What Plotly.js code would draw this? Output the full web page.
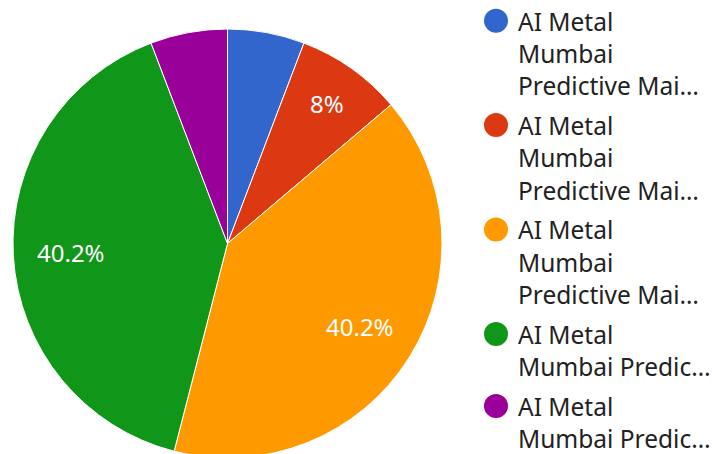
<!DOCTYPE html>
<html>
<head>
<meta charset="utf-8">
<script src="https://cdn.plot.ly/plotly-3.0.1.min.js"></script>
<style>
html, body { margin: 0; padding: 0; overflow: hidden; background: #fff; }
#chart { width: 712px; height: 458px; }
</style>
</head>
<body>
<div id="chart"></div>
<script>
// ---- data ----
const sliceValues = [5.8, 8, 40.2, 40.2, 5.8];
const sliceColors = ["#3366cc", "#dc3912", "#ff9900", "#109618", "#990099"];
const legendLabels = [
  ["AI Metal", "Mumbai", "Predictive Mai…"],
  ["AI Metal", "Mumbai", "Predictive Mai…"],
  ["AI Metal", "Mumbai", "Predictive Mai…"],
  ["AI Metal", "Mumbai Predic…"],
  ["AI Metal", "Mumbai Predic…"]
];

// ---- layout helpers ----
const W = 712, H = 458;
const px = x => x / W;
const py = y => 1 - y / H;
const FONT = "Noto Sans, Open Sans, sans-serif";
const PIE_FONT_SIZE = 24;
const LEG_FONT_SIZE = 24.5;

// pie geometry (pixels)
const pieX0 = 13, pieX1 = 442, pieY0 = 29, pieY1 = 458;
const pcx = (pieX0 + pieX1) / 2, pcy = (pieY0 + pieY1) / 2;
const R = Math.min(pieX1 - pieX0, pieY1 - pieY0) / 2;

const pie = {
  type: "pie",
  values: sliceValues,
  labels: sliceValues.map((v, i) => "s" + i),
  sort: false,
  direction: "clockwise",
  rotation: 0,
  marker: { colors: sliceColors, line: { color: "#ffffff", width: 1 } },
  textinfo: "none",
  hoverinfo: "none",
  showlegend: false,
  domain: { x: [px(pieX0), px(pieX1)], y: [py(pieY1), py(pieY0)] }
};

const shapes = [];
const annotations = [];

// slice labels: placed along each slice's mid angle, pushed out until the text box nears the rim
const total = sliceValues.reduce((a, b) => a + b, 0);
const ctx = document.createElement("canvas").getContext("2d");
ctx.font = PIE_FONT_SIZE + "px 'Noto Sans'";
let cum = 0;
sliceValues.forEach((v, i) => {
  const frac = v / total;
  const mid = (cum + frac / 2) * 2 * Math.PI;
  cum += frac;
  if (frac < 0.07) return;
  const txt = parseFloat((frac * 100).toFixed(1)) + "%";
  const w = ctx.measureText(txt).width;
  const p = w / 2, q = PIE_FONT_SIZE / 2;
  const a = Math.abs(Math.sin(mid)), b = Math.abs(Math.cos(mid));
  const L = R - 23;
  const s = a * p + b * q;
  const d = -s + Math.sqrt(s * s - (p * p + q * q - L * L));
  const tx = pcx + d * Math.sin(mid), ty = pcy - d * Math.cos(mid);
  annotations.push({
    xref: "paper", yref: "paper", x: px(tx), y: py(ty),
    xanchor: "center", yanchor: "middle", showarrow: false, borderpad: 0,
    text: txt, font: { family: FONT, size: PIE_FONT_SIZE, color: "#ffffff" }
  });
});

// legend
const lineH = 32.3, gap = 7.5, rDot = 12;
let cy = 20.7;
legendLabels.forEach((lines, i) => {
  shapes.push({
    type: "circle", xref: "paper", yref: "paper",
    x0: px(496 - rDot), x1: px(496 + rDot), y0: py(cy + rDot), y1: py(cy - rDot),
    fillcolor: sliceColors[i], line: { width: 0 }
  });
  lines.forEach((ln, j) => {
    annotations.push({
      xref: "paper", yref: "paper", x: px(517), y: py(cy + j * lineH + 0.5),
      xanchor: "left", yanchor: "middle", align: "left", showarrow: false,
      borderpad: 0, text: ln,
      font: { family: FONT, size: LEG_FONT_SIZE, color: "#222222" }
    });
  });
  cy += lines.length * lineH + gap;
});

const layout = {
  width: W, height: H,
  margin: { l: 0, r: 0, t: 0, b: 0 },
  paper_bgcolor: "#ffffff",
  showlegend: false,
  shapes: shapes,
  annotations: annotations
};

Plotly.newPlot("chart", [pie], layout, { staticPlot: true, displayModeBar: false });
</script>
</body>
</html>
